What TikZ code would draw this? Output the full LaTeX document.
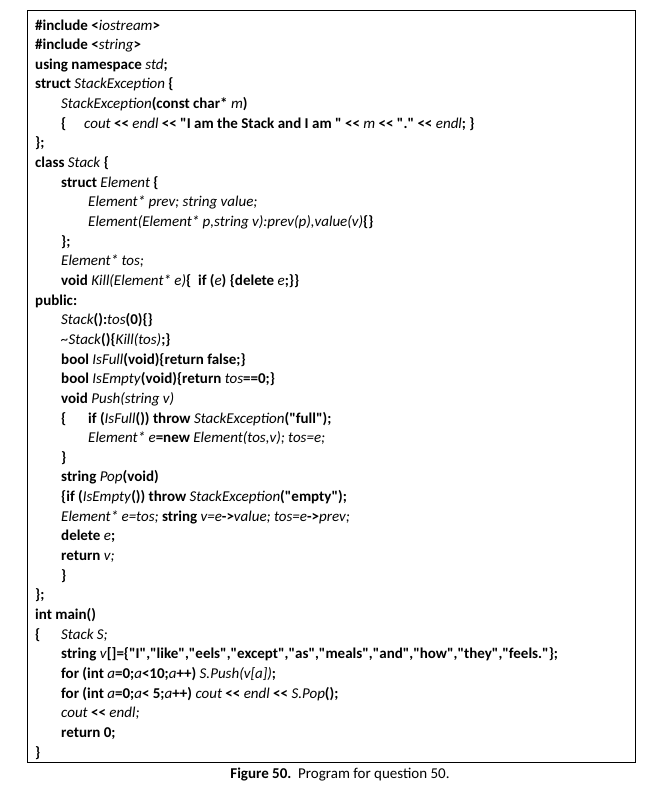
\documentclass[tikz,border=0pt]{standalone}
\usepackage{fontspec}
\setmainfont{Carlito}[Ligatures=TeXOff]
\newcommand{\B}[1]{\textbf{#1}}
\newcommand{\I}[1]{\textit{#1}}
\begin{document}
\begin{tikzpicture}[x=1pt,y=-1pt,
  ln/.style={anchor=base west,inner sep=0pt,font=\fontsize{15}{16}\selectfont}]
\useasboundingbox (0,0) rectangle (665,795);
\draw[line width=0.8pt] (27,10) rectangle (635,762);
\node[ln] (l1) at (35,30) {\B{\#include <}\I{iostream}\B{>}};
\node[ln] (l2) at (35,49.65) {\B{\#include <}\I{string}\B{>}};
\node[ln] (l3) at (35,69.3) {\B{using namespace }\I{std}\B{;}};
\node[ln] (l4) at (35,88.95) {\B{struct }\I{StackException }\B{\{}};
\node[ln] (l5) at (61,108.6) {\I{StackException}\B{(const char* }\I{m}\B{)}};
\node[ln] (l6a) at (61,128.25) {\B{\{}};
\node[ln] (l6) at (84,128.25) {\I{cout} \B{<< }\I{endl} \B{<< "I am the Stack and I am " << }\I{m} \B{<< "." << }\I{endl}\B{; \}}};
\node[ln] (l7) at (35,147.9) {\B{\};}};
\node[ln] (l8) at (35,167.55) {\B{class }\I{Stack }\B{\{}};
\node[ln] (l9) at (61,187.2) {\B{struct }\I{Element }\B{\{}};
\node[ln] (l10) at (88,206.85) {\I{Element* prev; string value;}};
\node[ln] (l11) at (88,226.5) {\I{Element(Element* p,string v):prev(p),value(v)}\B{\{\}}};
\node[ln] (l12) at (61,246.15) {\B{\};}};
\node[ln] (l13) at (61,265.8) {\I{Element* tos;}};
\node[ln] (l14) at (61,285.45) {\B{void }\I{Kill(Element* e)}\B{\{\ \ if (}\I{e}\B{) \{delete }\I{e}\B{;\}\}}};
\node[ln] (l15) at (35,305.1) {\B{public:}};
\node[ln] (l16) at (61,324.75) {\I{Stack}\B{():}\I{tos}\B{(0)\{\}}};
\node[ln] (l17) at (61,344.4) {\I{\textasciitilde Stack}\B{()\{}\I{Kill(tos)}\B{;\}}};
\node[ln] (l18) at (61,364.05) {\B{bool }\I{IsFull}\B{(void)\{return false;\}}};
\node[ln] (l19) at (61,383.7) {\B{bool }\I{IsEmpty}\B{(void)\{return }\I{tos}\B{==0;\}}};
\node[ln] (l20) at (61,403.35) {\B{void }\I{Push(string v)}};
\node[ln] (l21a) at (61,423) {\B{\{}};
\node[ln] (l21) at (88,423) {\B{if (}\I{IsFull}\B{()) throw }\I{StackException}\B{("full");}};
\node[ln] (l22) at (88,442.65) {\I{Element* e}\B{=new }\I{Element(tos,v); tos=e;}};
\node[ln] (l23) at (61,462.3) {\B{\}}};
\node[ln] (l24) at (61,481.95) {\B{string }\I{Pop}\B{(void)}};
\node[ln] (l25) at (61,501.6) {\B{\{if (}\I{IsEmpty}\B{()) throw }\I{StackException}\B{("empty");}};
\node[ln] (l26) at (61,521.25) {\I{Element* e=tos;} \B{string }\I{v=e}\B{->}\I{value; tos=e}\B{->}\I{prev;}};
\node[ln] (l27) at (61,540.9) {\B{delete }\I{e}\B{;}};
\node[ln] (l28) at (61,560.55) {\B{return }\I{v;}};
\node[ln] (l29) at (61,580.2) {\B{\}}};
\node[ln] (l30) at (35,599.85) {\B{\};}};
\node[ln] (l31) at (35,619.5) {\B{int main()}};
\node[ln] (l32a) at (35,639.15) {\B{\{}};
\node[ln] (l32) at (61,639.15) {\I{Stack S;}};
\node[ln] (l33) at (61,658.8) {\B{string }\I{v}\B{[]=\{"I","like","eels","except","as","meals","and","how","they","feels."\};}};
\node[ln] (l34) at (61,678.45) {\B{for (int }\I{a}\B{=0;}\I{a}\B{<10;}\I{a}\B{++) }\I{S.Push(v[a])}\B{;}};
\node[ln] (l35) at (61,698.1) {\B{for (int }\I{a}\B{=0;}\I{a}\B{< 5;}\I{a}\B{++) }\I{cout} \B{<< }\I{endl} \B{<< }\I{S.Pop}\B{();}};
\node[ln] (l36) at (61,717.75) {\I{cout} \B{<< }\I{endl;}};
\node[ln] (l37) at (61,737.4) {\B{return 0;}};
\node[ln] (l38) at (35,757.05) {\B{\}}};
\node[ln,anchor=base] (cap) at (340,778) {\B{Figure 50.}\ \ Program for question 50.};
\end{tikzpicture}
\end{document}
